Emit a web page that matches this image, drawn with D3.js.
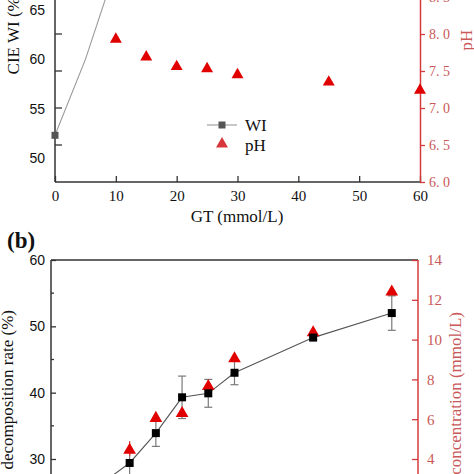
<!DOCTYPE html>
<html>
<head>
<meta charset="utf-8">
<script src="https://cdn.jsdelivr.net/npm/d3@7"></script>
<style>
  body { margin: 0; background: #fff; }
  svg { display: block; }
</style>
</head>
<body>
<div id="chart"></div>
<script>
// ---- panel (a): whiteness and pH vs GT
var wiGT = [0, 5, 10];
var wiVal = [52.3, 60.0, 69.3];
var phGT = [10, 15, 20, 25, 30, 45, 60];
var phVal = [7.93, 7.69, 7.56, 7.53, 7.45, 7.35, 7.24];
var xTicksA = [0, 10, 20, 30, 40, 50, 60];
var wiTicks = [50, 55, 60, 65];
var phTicks = [6.0, 6.5, 7.0, 7.5, 8.0, 8.5];

// ---- panel (b): decomposition rate and concentration vs GT
var rateGT = [5, 10, 15, 20, 25, 30, 45, 60];
var rateVal = [26.5, 29.4, 33.9, 39.3, 39.9, 43.0, 48.3, 52.0];
var rateErr = [1.0, 1.8, 2.0, 3.2, 2.1, 1.8, 0.3, 2.6];
var concGT = [5, 10, 15, 20, 25, 30, 45, 60];
var concVal = [2.5, 4.45, 6.05, 6.3, 7.65, 9.05, 10.35, 12.4];
var concErr = [0, 0.3, 0, 0, 0, 0, 0, 0];
var rateTicks = [30, 40, 50, 60];
var rateMinor = [35, 45, 55];
var concTicks = [4, 6, 8, 10, 12, 14];

var W = 474, H = 474;
var red = "#d43c3c", redText = "#c95858", dark = "#333";
var serif = "'Liberation Serif', 'DejaVu Serif', serif";
var sans = "'Liberation Sans', Arial, sans-serif";

var svg = d3.select("#chart").append("svg").attr("width", W).attr("height", H);

// scales
var xA = d3.scaleLinear().domain([0, 60]).range([55, 420]);
var wiY = d3.scaleLinear().domain([50, 65]).range([158, 10]);
var phY = d3.scaleLinear().domain([6, 8.5]).range([182, -3]);

var xB = d3.scaleLinear().domain([-5, 65]).range([51, 418]);
var rateY = d3.scaleLinear().domain([30, 60]).range([459, 260]);
var concY = d3.scaleLinear().domain([4, 14]).range([459, 260]);

function chineseDot(v) { return d3.format(".1f")(v).replace(".", ". "); }

function styleAxis(g, color, font, size) {
    g.selectAll("path.domain").attr("stroke", color).attr("stroke-width", 1.5);
    g.selectAll(".tick line").attr("stroke", color).attr("stroke-width", 1.3);
    g.selectAll(".tick text").attr("fill", color === red ? redText : "#111")
        .style("font-family", font).style("font-size", size + "px");
}

// ======== panel (a) ========
var gA = svg.append("g");

// bottom axis
var axA = gA.append("g").attr("transform", "translate(0,182)")
    .call(d3.axisBottom(xA).tickValues(xTicksA).tickSizeInner(-6).tickSizeOuter(0).tickPadding(8));
styleAxis(axA, dark, serif, 15);
axA.selectAll("path.domain").attr("d", "M" + xA(0) + ",0H" + xA(60));

// left axis: labels from WI scale
var ayA = gA.append("g").attr("transform", "translate(55,0)")
    .call(d3.axisLeft(wiY).tickValues(wiTicks).tickSize(0).tickPadding(10));
styleAxis(ayA, dark, sans, 14);
ayA.select("path.domain").attr("d", "M0,0V182");
// inner tick marks on the left spine
gA.selectAll("line.ltick").data(phTicks.slice(1, 5)).enter().append("line")
    .attr("class", "ltick")
    .attr("x1", 55).attr("x2", 62)
    .attr("y1", function(d) { return phY(d); }).attr("y2", function(d) { return phY(d); })
    .attr("stroke", dark).attr("stroke-width", 1.3);

// right axis: pH
var arA = gA.append("g").attr("transform", "translate(420,0)")
    .call(d3.axisRight(phY).tickValues(phTicks).tickSizeInner(5).tickSizeOuter(0).tickPadding(4).tickFormat(chineseDot));
styleAxis(arA, red, serif, 14);

// WI line
var lineA = d3.line().x(function(d) { return xA(d[0]); }).y(function(d) { return wiY(d[1]); });
var wiData = wiGT.map(function(g, i) { return [g, wiVal[i]]; });
gA.append("path").datum(wiData).attr("d", lineA)
    .attr("fill", "none").attr("stroke", "#9a9a9a").attr("stroke-width", 1.1);
// only the first WI marker shows in the picture
gA.selectAll("rect.wi").data(wiData.slice(0, 1)).enter().append("rect")
    .attr("class", "wi")
    .attr("x", function(d) { return xA(d[0]) - 3.5; })
    .attr("y", function(d) { return wiY(d[1]) - 3.5; })
    .attr("width", 7).attr("height", 7).attr("fill", "#555");

// pH triangles
var tri = d3.symbol().type(d3.symbolTriangle).size(62);
gA.selectAll("path.ph").data(phGT.map(function(g, i) { return [g, phVal[i]]; })).enter().append("path")
    .attr("class", "ph")
    .attr("d", tri)
    .attr("transform", function(d) { return "translate(" + xA(d[0]) + "," + phY(d[1]) + ")"; })
    .attr("fill", "#e00000");

// legend
gA.append("line").attr("x1", 207).attr("x2", 237).attr("y1", 125).attr("y2", 125)
    .attr("stroke", "#9a9a9a").attr("stroke-width", 1.1);
gA.append("rect").attr("x", 218.5).attr("y", 121.5).attr("width", 7).attr("height", 7).attr("fill", "#555");
gA.append("path").attr("d", tri).attr("transform", "translate(222,144)").attr("fill", "#d9363b");
gA.append("text").attr("x", 245).attr("y", 131).text("WI")
    .style("font-family", serif).style("font-size", "17px").attr("fill", "#111");
gA.append("text").attr("x", 245).attr("y", 151).text("pH")
    .style("font-family", serif).style("font-size", "17px").attr("fill", "#111");

// titles
gA.append("text").attr("transform", "translate(19,33) rotate(-90)")
    .attr("text-anchor", "middle").text("CIE WI (%)")
    .style("font-family", serif).style("font-size", "17px").attr("fill", "#111");
gA.append("text").attr("transform", "translate(472,40) rotate(-90)")
    .attr("text-anchor", "middle").text("pH")
    .style("font-family", serif).style("font-size", "17px").attr("fill", redText);
gA.append("text").attr("x", 237).attr("y", 222)
    .attr("text-anchor", "middle").text("GT (mmol/L)")
    .style("font-family", serif).style("font-size", "17px").attr("fill", "#111");

// ======== panel (b) ========
var gB = svg.append("g");

gB.append("text").attr("x", 7).attr("y", 248).text("(b)")
    .style("font-family", serif).style("font-size", "23px").style("font-weight", "bold").attr("fill", "#111");

// top spine
gB.append("line").attr("x1", 51).attr("x2", 418).attr("y1", 260).attr("y2", 260)
    .attr("stroke", dark).attr("stroke-width", 1.5);

// left axis
var ayB = gB.append("g").attr("transform", "translate(51,0)")
    .call(d3.axisLeft(rateY).tickValues(rateTicks).tickSizeInner(-5).tickSizeOuter(0).tickPadding(6));
styleAxis(ayB, dark, sans, 14);
ayB.select("path.domain").attr("d", "M0,260V" + H);
gB.selectAll("line.minor").data(rateMinor).enter().append("line")
    .attr("class", "minor")
    .attr("x1", 51).attr("x2", 54)
    .attr("y1", function(d) { return rateY(d); }).attr("y2", function(d) { return rateY(d); })
    .attr("stroke", dark).attr("stroke-width", 1.3);

// right axis
var arB = gB.append("g").attr("transform", "translate(418,0)")
    .call(d3.axisRight(concY).tickValues(concTicks).tickSizeInner(-6).tickSizeOuter(0).tickPadding(9));
styleAxis(arB, red, serif, 15);
arB.select("path.domain").attr("d", "M0,260V" + H);

// error bars for the rate
var rateData = rateGT.map(function(g, i) { return {g: g, v: rateVal[i], e: rateErr[i]}; });
var eb = gB.selectAll("g.eb").data(rateData).enter().append("g").attr("class", "eb")
    .attr("stroke", "#7a7a7a").attr("stroke-width", 1.2);
eb.append("line")
    .attr("x1", function(d) { return xB(d.g); }).attr("x2", function(d) { return xB(d.g); })
    .attr("y1", function(d) { return rateY(d.v - d.e); }).attr("y2", function(d) { return rateY(d.v + d.e); });
eb.append("line")
    .attr("x1", function(d) { return xB(d.g) - 4; }).attr("x2", function(d) { return xB(d.g) + 4; })
    .attr("y1", function(d) { return rateY(d.v + d.e); }).attr("y2", function(d) { return rateY(d.v + d.e); });
eb.append("line")
    .attr("x1", function(d) { return xB(d.g) - 4; }).attr("x2", function(d) { return xB(d.g) + 4; })
    .attr("y1", function(d) { return rateY(d.v - d.e); }).attr("y2", function(d) { return rateY(d.v - d.e); });

// small red error bars on concentration
var concData = concGT.map(function(g, i) { return {g: g, v: concVal[i], e: concErr[i]}; });
gB.selectAll("line.ceb").data(concData.filter(function(d) { return d.e > 0; })).enter().append("line")
    .attr("class", "ceb")
    .attr("x1", function(d) { return xB(d.g); }).attr("x2", function(d) { return xB(d.g); })
    .attr("y1", function(d) { return concY(d.v - d.e); }).attr("y2", function(d) { return concY(d.v + d.e) - 3; })
    .attr("stroke", red).attr("stroke-width", 1.2);

// rate line and squares
var lineB = d3.line().x(function(d) { return xB(d.g); }).y(function(d) { return rateY(d.v); });
gB.append("path").datum(rateData).attr("d", lineB)
    .attr("fill", "none").attr("stroke", "#555").attr("stroke-width", 1.1);

// concentration triangles
var tri2 = d3.symbol().type(d3.symbolTriangle).size(70);
gB.selectAll("path.conc").data(concData).enter().append("path")
    .attr("class", "conc")
    .attr("d", tri2)
    .attr("transform", function(d) { return "translate(" + xB(d.g) + "," + concY(d.v) + ")"; })
    .attr("fill", "#e00000");

gB.selectAll("rect.rate").data(rateData).enter().append("rect")
    .attr("class", "rate")
    .attr("x", function(d) { return xB(d.g) - 4; })
    .attr("y", function(d) { return rateY(d.v) - 4; })
    .attr("width", 8).attr("height", 8).attr("fill", "#000");

// titles
gB.append("text").attr("transform", "translate(13,310) rotate(-90)")
    .attr("text-anchor", "end").text("H\u2082O\u2082 decomposition rate (%)")
    .style("font-family", serif).style("font-size", "17px").attr("fill", "#111");
gB.append("text").attr("transform", "translate(461,312) rotate(-90)")
    .attr("text-anchor", "end").text("GT \u25B2 concentration (mmol/L)")
    .style("font-family", serif).style("font-size", "17px").attr("fill", redText);
</script>
</body>
</html>
